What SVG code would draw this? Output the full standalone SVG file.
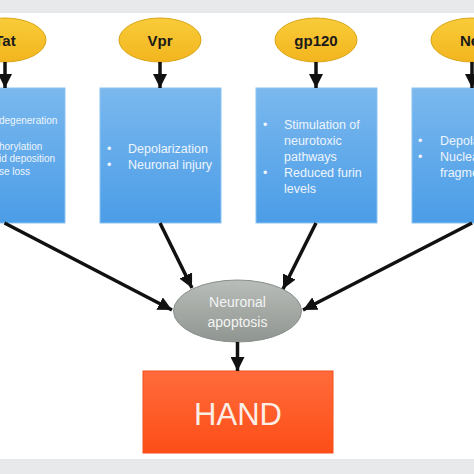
<svg xmlns="http://www.w3.org/2000/svg" width="474" height="474" viewBox="0 0 474 474">
<defs>
<linearGradient id="gBlue" x1="0" y1="0" x2="0" y2="1"><stop offset="0" stop-color="#7ab8ee"/><stop offset="1" stop-color="#4b9de7"/></linearGradient>
<linearGradient id="gGold" x1="0" y1="0" x2="0" y2="1"><stop offset="0" stop-color="#f9cc3a"/><stop offset="1" stop-color="#f2b51e"/></linearGradient>
<linearGradient id="gGray" x1="0" y1="0" x2="0" y2="1"><stop offset="0" stop-color="#b9bdb9"/><stop offset="1" stop-color="#8f9590"/></linearGradient>
<linearGradient id="gOrange" x1="0" y1="0" x2="0" y2="1"><stop offset="0" stop-color="#ff6b3b"/><stop offset="1" stop-color="#fd4e17"/></linearGradient>
<marker id="ah" markerWidth="4" markerHeight="4" refX="4" refY="2" orient="auto" markerUnits="strokeWidth"><path d="M0,0 L4,2 L0,4 Z" fill="#111"/></marker>
</defs>
<style>
.band{fill:#e7e9ea}
.oval{fill:url(#gGold);stroke:#d9a514;stroke-width:1}
.olbl{font-family:"Liberation Sans",Arial,sans-serif;font-weight:bold;font-size:15px;fill:#1a1a1a;text-anchor:middle}
.box{fill:url(#gBlue);stroke:#8cc3f0;stroke-width:1}
.bt{font-family:"Liberation Sans",Arial,sans-serif;font-size:12.5px;fill:#eef5fc}
.bts{font-family:"Liberation Sans",Arial,sans-serif;font-size:10px;fill:#eef5fc}
.conn line{stroke:#111;stroke-width:3.5;marker-end:url(#ah)}
.apo{fill:url(#gGray);stroke:#8a908b;stroke-width:1}
.at{font-family:"Liberation Sans",Arial,sans-serif;font-size:14px;fill:#f4f4f4;text-anchor:middle}
.hand{fill:url(#gOrange);stroke:#f0501c;stroke-width:1}
.ht{font-family:"Liberation Sans",Arial,sans-serif;font-size:31px;fill:#fbeee6;text-anchor:middle}
</style>
<rect class="band" x="0" y="0" width="474" height="13"/>
<rect class="band" x="0" y="459" width="474" height="15"/>

<g id="tat"><ellipse class="oval" cx="5" cy="40" rx="41" ry="22"/><text class="olbl" x="5" y="45.5">Tat</text></g>
<g id="vpr"><ellipse class="oval" cx="160" cy="40" rx="41" ry="22"/><text class="olbl" x="160" y="45.5">Vpr</text></g>
<g id="gp120"><ellipse class="oval" cx="316" cy="40" rx="41" ry="22"/><text class="olbl" x="316" y="45.5">gp120</text></g>
<g id="nef"><ellipse class="oval" cx="472" cy="40" rx="41" ry="22"/><text class="olbl" x="472" y="45.5">Nef</text></g>

<g id="tat-box"><rect class="box" x="-56" y="88" width="121" height="135"/>
<text class="bts" x="-1" y="123.5">degeneration</text>
<text class="bts" x="-1" y="149.5">horylation</text>
<text class="bts" x="-1" y="161.5">id deposition</text>
<text class="bts" x="-1" y="174.5">se loss</text></g>

<g id="vpr-box"><rect class="box" x="100" y="88" width="121" height="135"/>
<text class="bt" x="107" y="152.5">•</text><text class="bt" x="128" y="152.5">Depolarization</text>
<text class="bt" x="107" y="168.5">•</text><text class="bt" x="128" y="168.5">Neuronal injury</text></g>

<g id="gp120-box"><rect class="box" x="256" y="88" width="121" height="135"/>
<text class="bt" x="263" y="128.5">•</text><text class="bt" x="284" y="128.5">Stimulation of</text>
<text class="bt" x="284" y="144.5">neurotoxic</text>
<text class="bt" x="284" y="160.5">pathways</text>
<text class="bt" x="263" y="176.5">•</text><text class="bt" x="284" y="176.5">Reduced furin</text>
<text class="bt" x="284" y="192.5">levels</text></g>

<g id="nef-box"><rect class="box" x="412" y="88" width="121" height="135"/>
<text class="bt" x="418" y="144.5">•</text><text class="bt" x="440" y="144.5">Depolarization</text>
<text class="bt" x="418" y="160.5">•</text><text class="bt" x="440" y="160.5">Nuclear</text>
<text class="bt" x="440" y="176.5">fragmentation</text></g>

<g id="apoptosis"><ellipse class="apo" cx="237.5" cy="311" rx="64" ry="31"/>
<text class="at" x="237.5" y="306.5">Neuronal</text><text class="at" x="237.5" y="326.5">apoptosis</text></g>

<g id="hand"><rect class="hand" x="143" y="371" width="190" height="82"/>
<text class="ht" x="238" y="425">HAND</text></g>

<g class="conn" id="connectors">
<line x1="5" y1="62" x2="5" y2="88"/>
<line x1="160" y1="62" x2="160" y2="88"/>
<line x1="316" y1="62" x2="316" y2="88"/>
<line x1="472" y1="62" x2="472" y2="88"/>
<line x1="4.5" y1="223" x2="172" y2="310"/>
<line x1="160" y1="223" x2="192" y2="288"/>
<line x1="316" y1="223" x2="283" y2="289"/>
<line x1="472" y1="223" x2="303" y2="310"/>
<line x1="237.5" y1="342" x2="237.5" y2="371"/>
</g>
</svg>
